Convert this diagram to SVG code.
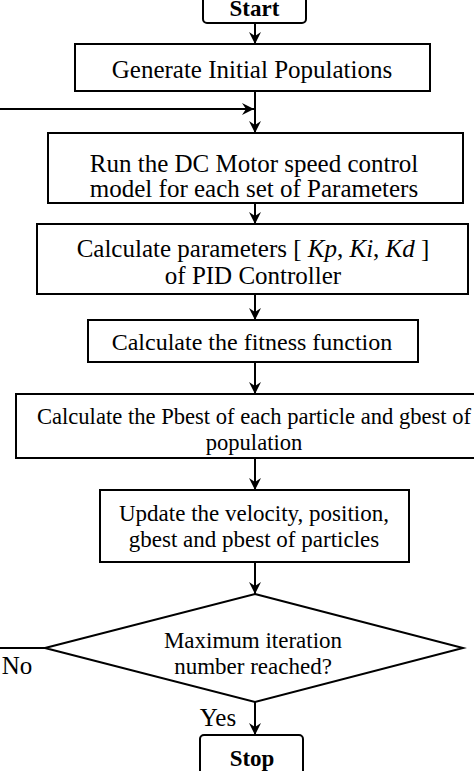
<svg xmlns="http://www.w3.org/2000/svg" width="474" height="771" viewBox="0 0 474 771">
<defs>
<marker id="ah" viewBox="0 0 12 12" refX="12" refY="6" markerWidth="12" markerHeight="12" markerUnits="userSpaceOnUse" orient="auto">
<path d="M0,0 L12,6 L0,12 L4,6 z" fill="#000"/>
</marker>
<style>
.box{fill:#fff;stroke:#000;stroke-width:2}
.t{font-size:25px;fill:#000;text-anchor:middle}
.b{font-weight:bold;font-size:23px}
.s24{font-size:24px}
.s23{font-size:23px}
.s22{font-size:22.6px}
.c{fill:none;stroke:#000;stroke-width:2;marker-end:url(#ah)}
.l{fill:none;stroke:#000;stroke-width:2}
</style>
</defs>
<rect width="474" height="771" fill="#fff"/>
<g id="connectors">
<path class="c" d="M255,23 V44"/>
<path class="l" d="M255,91 V109"/>
<path class="c" d="M45,648 H-10 V109 H254"/>
<path class="c" d="M255,109 V133"/>
<path class="c" d="M255,203 V224"/>
<path class="c" d="M255,294 V320"/>
<path class="c" d="M255,362 V394"/>
<path class="c" d="M255,458 V490"/>
<path class="c" d="M255,562 V594"/>
<path class="c" d="M255,702 V735"/>
</g>
<g font-family="'Liberation Serif', 'DejaVu Serif', serif">
<g id="start">
<rect class="box" x="203" y="-12" width="103" height="35" rx="4"/>
<text class="t b" x="254.5" y="16">Start</text>
</g>
<g id="generate">
<rect class="box" x="75" y="44" width="355" height="47"/>
<text class="t" x="252" y="78">Generate Initial Populations</text>
</g>
<g id="run">
<rect class="box" x="48" y="133" width="415" height="70"/>
<text class="t" x="254" y="172">Run the DC Motor speed control</text>
<text class="t" x="254" y="197">model for each set of Parameters</text>
</g>
<g id="params">
<rect class="box" x="37" y="224" width="431" height="70"/>
<text class="t" x="253" y="257">Calculate parameters [ <tspan font-style="italic">Kp</tspan>, <tspan font-style="italic">Ki</tspan>, <tspan font-style="italic">Kd</tspan> ]</text>
<text class="t" x="253" y="284">of PID Controller</text>
</g>
<g id="fitness">
<rect class="box" x="88" y="320" width="330" height="42"/>
<text class="t s24" x="252" y="350">Calculate the fitness function</text>
</g>
<g id="pbest">
<rect class="box" x="16" y="394" width="470" height="64"/>
<text class="t s22" x="254" y="424">Calculate the Pbest of each particle and gbest of</text>
<text class="t s22" x="254" y="450">population</text>
</g>
<g id="update">
<rect class="box" x="100" y="490" width="309" height="72"/>
<text class="t s23" x="254" y="521">Update the velocity, position,</text>
<text class="t s23" x="254" y="547">gbest and pbest of particles</text>
</g>
<g id="decision">
<polygon class="box" points="255,594 463,648 255,702 45,648"/>
<text class="t s23" x="253" y="648">Maximum iteration</text>
<text class="t s23" x="253" y="674">number reached?</text>
</g>
<g id="labels">
<text class="t" x="17" y="674">No</text>
<text class="t" x="218" y="726">Yes</text>
</g>
<g id="stop">
<rect class="box" x="200" y="735" width="103" height="50" rx="4"/>
<text class="t b" x="252" y="766">Stop</text>
</g>
</g>
</svg>
